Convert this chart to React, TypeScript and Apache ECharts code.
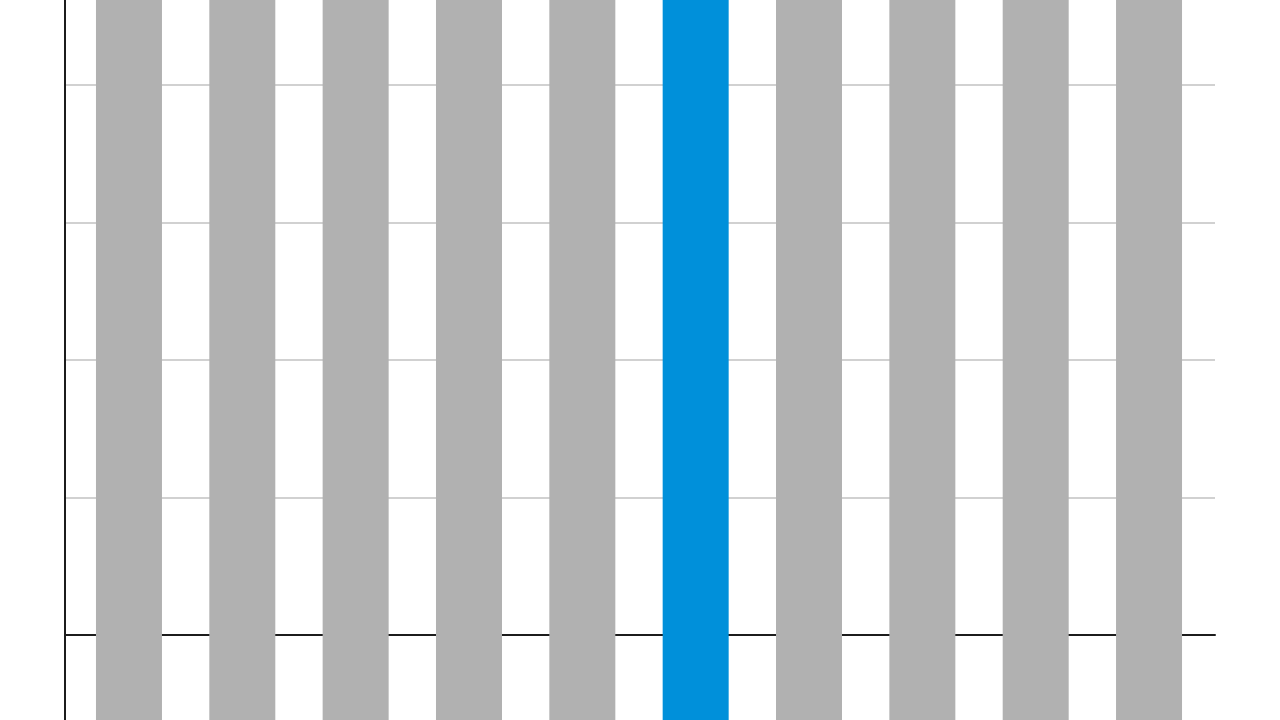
import * as echarts from 'echarts';
import { useEffect, useRef } from 'react';

// the frame only shows a cropped middle part of the chart: bars run off the top and bottom
const categories = ['1', '2', '3', '4', '5', '6', '7', '8', '9', '10'];
const values = [6, 6, 6, 6, 6, 6, 6, 6, 6, 6];
const highlighted = '6';

const GRAY = '#b1b1b1';
const BLUE = '#0090da';

const App = () => {
    const chartDiv = useRef<HTMLDivElement>(null);

    useEffect(() => {
        const chart = echarts.init(chartDiv.current, null, { renderer: 'svg' });

        chart.setOption({
            animation: false,
            backgroundColor: '#ffffff',
            grid: [
                // grid for the axis line and the horizontal grid lines
                { left: 65, width: 1150, top: -52.5, height: 825, outerBoundsMode: 'none' },
                // grid for the bars (slightly inset from the axis)
                { left: 72.3, width: 1133.4, top: -52.5, height: 825, outerBoundsMode: 'none' }
            ],
            xAxis: [
                {
                    gridIndex: 0,
                    type: 'value',
                    min: 0,
                    max: 1,
                    axisLine: { show: true, onZero: true, lineStyle: { color: '#1c1c1c', width: 2 } },
                    axisTick: { show: false },
                    axisLabel: { show: false },
                    splitLine: { show: false }
                },
                {
                    gridIndex: 1,
                    type: 'category',
                    data: categories,
                    boundaryGap: true,
                    show: false
                }
            ],
            yAxis: [
                {
                    gridIndex: 0,
                    type: 'value',
                    min: -1,
                    max: 5,
                    interval: 1,
                    axisLine: { show: true, lineStyle: { color: '#1c1c1c', width: 2 } },
                    axisTick: { show: false },
                    axisLabel: { show: false },
                    splitLine: { show: true, lineStyle: { color: '#c2c2c2', width: 1.5 } }
                },
                {
                    gridIndex: 1,
                    type: 'value',
                    min: 0,
                    max: 6,
                    show: false
                }
            ],
            series: [
                {
                    type: 'bar',
                    xAxisIndex: 1,
                    yAxisIndex: 1,
                    barWidth: 66,
                    data: values.map((v, i) => ({
                        value: v,
                        itemStyle: { color: categories[i] === highlighted ? BLUE : GRAY }
                    }))
                }
            ]
        });

        return () => {
            chart.dispose();
        };
    }, []);

    return (
        <div
            ref={chartDiv}
            style={{ position: 'fixed', left: 0, top: 0, width: '1280px', height: '720px' }}
        />
    );
};

export default App;
